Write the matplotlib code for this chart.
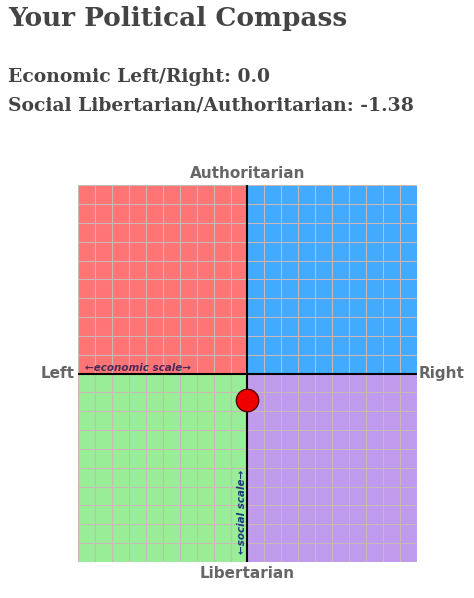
import matplotlib.pyplot as plt
from matplotlib.patches import Rectangle

# scores
economic = 0.0
social = -1.38

quadrants = [(-10, 0, '#ff7575'), (0, 0, '#42aaff'), (-10, -10, '#9aed97'), (0, -10, '#c09aec')]

fig = plt.figure(figsize=(4.74, 5.98), dpi=100)
fig.text(0.017, 0.990, 'Your Political Compass', family='DejaVu Serif', weight='bold',
         fontsize=19, color='#444444', va='top')
fig.text(0.017, 0.871, 'Economic Left/Right: ' + str(economic), family='DejaVu Serif',
         weight='bold', fontsize=13.5, color='#444444', va='center')
fig.text(0.017, 0.823, 'Social Libertarian/Authoritarian: ' + str(social), family='DejaVu Serif',
         weight='bold', fontsize=13.5, color='#444444', va='center')

ax = fig.add_axes([0.1646, 0.0602, 0.715, 0.630])
for x0, y0, c in quadrants:
    ax.add_patch(Rectangle((x0, y0), 10, 10, color=c, zorder=0))
for v in range(-10, 11):
    ax.axvline(v, color='#c8b8b8', lw=0.8, zorder=1)
    ax.axhline(v, color='#c8b8b8', lw=0.8, zorder=1)
ax.axvline(0, color='black', lw=1.5, zorder=2)
ax.axhline(0, color='black', lw=1.5, zorder=2)
ax.set_xlim(-10, 10)
ax.set_ylim(-10, 10)
ax.set_xticks([])
ax.set_yticks([])
for s in ax.spines.values():
    s.set_visible(False)

ax.scatter([economic], [social], s=260, color='#ee0000', edgecolor='#550000', lw=1, zorder=5)

ax.text(-9.6, 0.05, '←economic scale→', fontsize=7.5, style='italic', weight='bold',
        color='#4a2a5a', va='bottom')
ax.text(-0.05, -9.6, '←social scale→', fontsize=7.5, style='italic', weight='bold',
        color='#1a3a7a', rotation=90, ha='right', va='bottom')

lab = dict(fontsize=11, weight='bold', color='#666666')
ax.text(0, 10.2, 'Authoritarian', ha='center', va='bottom', **lab)
ax.text(0, -10.2, 'Libertarian', ha='center', va='top', **lab)
ax.text(-10.2, 0, 'Left', ha='right', va='center', **lab)
ax.text(10.1, 0, 'Right', ha='left', va='center', **lab)

fig.savefig('out.png', dpi=100)
